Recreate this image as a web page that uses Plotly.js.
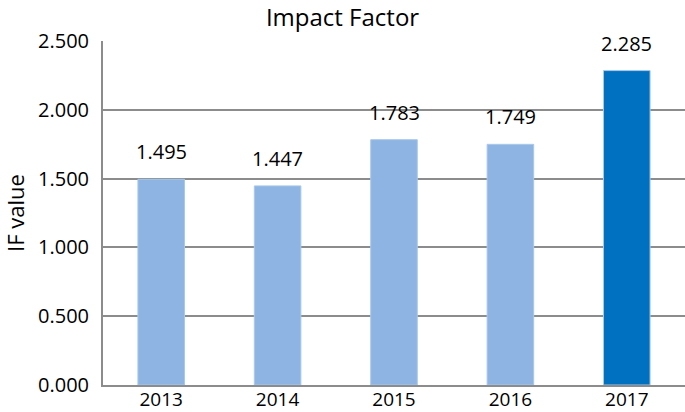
<!DOCTYPE html>
<html><head><meta charset="utf-8">
<script src="https://cdn.plot.ly/plotly-3.0.1.min.js"></script>
<style>html,body{margin:0;padding:0;background:#fff}</style>
</head><body>
<div id="chart" style="width:685px;height:412px"></div>
<script>
var years = ["2013", "2014", "2015", "2016", "2017"];
var ifValues = [1.495, 1.447, 1.783, 1.749, 2.285];
var valueLabels = ["1.495", "1.447", "1.783", "1.749", "2.285"];
var barColors = ["#8DB4E2", "#8DB4E2", "#8DB4E2", "#8DB4E2", "#0070C0"];
var yTicks = [0, 0.5, 1.0, 1.5, 2.0, 2.5];
var yTickLabels = ["0.000", "0.500", "1.000", "1.500", "2.000", "2.500"];

var font = "Open Sans, Segoe UI, sans-serif";

var trace = {
  type: "bar",
  x: years,
  y: ifValues,
  marker: {color: barColors, line: {color: "#A9C8EC", width: 1}},
  hoverinfo: "none"
};

var annotations = years.map(function(y, i) {
  return {
    x: i, y: ifValues[i], xref: "x", yref: "y",
    text: valueLabels[i], showarrow: false,
    yanchor: "bottom", yshift: 12,
    font: {family: font, size: 20, color: "#000"}
  };
});

var layout = {
  width: 685, height: 412,
  margin: {l: 103, r: 0, t: 41, b: 27, autoexpand: false},
  paper_bgcolor: "#fff", plot_bgcolor: "#fff",
  showlegend: false,
  bargap: 0.6,
  title: {text: "Impact Factor", x: 0.5, xref: "container", y: 0.958, yanchor: "middle",
          font: {family: font, size: 24, color: "#000"}},
  xaxis: {
    type: "category",
    range: [-0.5, 4.5],
    showline: true, linecolor: "#8c8c8c", linewidth: 2,
    showgrid: false, ticks: "", ticklabelstandoff: -4,
    tickfont: {family: font, size: 19, color: "#000"}
  },
  yaxis: {
    range: [0, 2.5],
    tickvals: yTicks, ticktext: yTickLabels,
    showline: true, linecolor: "#8c8c8c", linewidth: 2,
    showgrid: true, gridcolor: "#8c8c8c", gridwidth: 2,
    zeroline: false, ticks: "", ticklabelstandoff: 8,
    tickfont: {family: font, size: 20, color: "#000"},
    title: {text: "IF value", standoff: 8, font: {family: font, size: 22, color: "#000"}}
  },
  annotations: annotations
};

Plotly.newPlot("chart", [trace], layout, {displayModeBar: false, staticPlot: true});
</script>
</body></html>
